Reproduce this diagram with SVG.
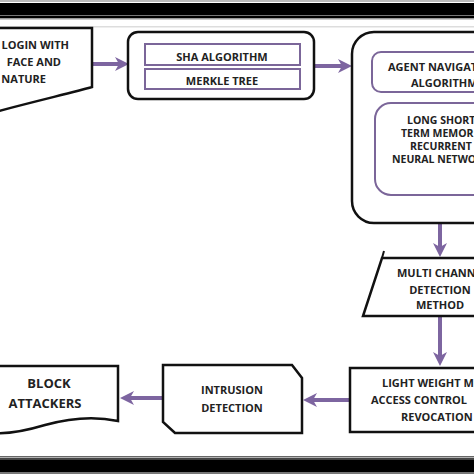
<svg xmlns="http://www.w3.org/2000/svg" width="474" height="474" viewBox="0 0 474 474">
<style>
.box{fill:#fff;stroke:#111;stroke-width:2.5}
.inner{fill:#fff;stroke:#7b6699;stroke-width:2}
.t{font-family:"Open Sans","Liberation Sans",sans-serif;font-weight:bold;font-size:11px;fill:#222}
.sm{font-size:10.5px}
.big{font-size:13px}
.c{text-anchor:middle}
.arrow{stroke:#7d65a0;stroke-width:4;fill:none;marker-end:url(#ah)}
</style>
<defs>
<marker id="ah" viewBox="0 0 14 14" refX="6" refY="7" markerWidth="14" markerHeight="14" markerUnits="userSpaceOnUse" orient="auto">
<path d="M0,0 L14,7 L0,14 L4,7 Z" fill="#7d65a0"/>
</marker>
</defs>
<rect width="474" height="474" fill="#fff"/>
<g id="frame">
<rect x="0" y="0" width="474" height="2" fill="#bbb"/>
<rect x="0" y="3" width="474" height="12" fill="#000"/>
<rect x="0" y="15" width="474" height="1" fill="#777"/>
<rect x="0" y="16" width="474" height="2" fill="#000"/>
<rect x="0" y="18" width="474" height="1.5" fill="#999"/>
<rect x="0" y="26" width="474" height="1.5" fill="#ddd"/>
<rect x="0" y="456" width="474" height="1.5" fill="#666"/>
<rect x="0" y="458" width="474" height="2" fill="#444"/>
<rect x="0" y="460" width="474" height="12" fill="#000"/>
<rect x="0" y="472" width="474" height="2" fill="#777"/>
</g>
<g id="connectors">
<line class="arrow" x1="92" y1="64" x2="121" y2="64"/>
<line class="arrow" x1="314" y1="66" x2="344" y2="66"/>
<line class="arrow" x1="440" y1="223" x2="440" y2="249"/>
<line class="arrow" x1="440" y1="316" x2="440" y2="358"/>
<line class="arrow" x1="350" y1="400" x2="311" y2="400"/>
<line class="arrow" x1="163" y1="398" x2="128" y2="398"/>
</g>
<g id="login">
<path class="box" d="M-5 28 H92 V87 C75 92 40 100 -5 112 Z"/>
<text class="t" x="69" y="49" text-anchor="end">LOGIN WITH</text>
<text class="t" x="61" y="66" text-anchor="end">FACE AND</text>
<text class="t" x="46" y="83" text-anchor="end">NATURE</text>
</g>
<g id="hashing">
<rect class="box" x="128" y="32" width="186" height="67" rx="10"/>
<rect class="inner" x="145" y="44" width="155" height="21"/>
<rect class="inner" x="145" y="69" width="155" height="20"/>
<text class="t c" x="222" y="61">SHA ALGORITHM</text>
<text class="t c" x="222" y="85">MERKLE TREE</text>
</g>
<g id="agent">
<rect class="box" x="352" y="32" width="160" height="191" rx="22"/>
<rect class="inner" x="372" y="52" width="130" height="40" rx="9"/>
<rect class="inner" x="375" y="103" width="130" height="92" rx="16"/>
<text class="t" x="388" y="71">AGENT NAVIGAT</text>
<text class="t" x="411" y="87">ALGORITHM</text>
<text class="t sm" x="407" y="124">LONG SHORT</text>
<text class="t sm" x="401" y="137">TERM MEMOR</text>
<text class="t sm" x="410" y="150">RECURRENT</text>
<text class="t sm" x="392" y="163">NEURAL NETWO</text>
</g>
<g id="multichannel">
<polygon class="box" points="382,258 490,258 490,316 363,316"/>
<line x1="382" y1="258" x2="384" y2="251" stroke="#111" stroke-width="2"/>
<text class="t" x="397" y="277">MULTI CHANN</text>
<text class="t c" x="440" y="294">DETECTION</text>
<text class="t c" x="440" y="309">METHOD</text>
</g>
<g id="lightweight">
<rect class="box" x="350" y="368" width="140" height="64"/>
<text class="t" x="382" y="387">LIGHT WEIGHT M</text>
<text class="t" x="371" y="404">ACCESS CONTROL</text>
<text class="t" x="401" y="421">REVOCATION</text>
</g>
<g id="intrusion">
<polygon class="box" points="163,365 292,365 302,378 302,433 175,433 163,422"/>
<text class="t c" x="232" y="394">INTRUSION</text>
<text class="t c" x="232" y="412">DETECTION</text>
</g>
<g id="block">
<path class="box" d="M-5 366 H118 V421 C95 416 70 418 45 425 C25 431 10 434 -5 433 Z"/>
<text class="t big c" x="49" y="388">BLOCK</text>
<text class="t big c" x="45" y="408">ATTACKERS</text>
</g>
</svg>
